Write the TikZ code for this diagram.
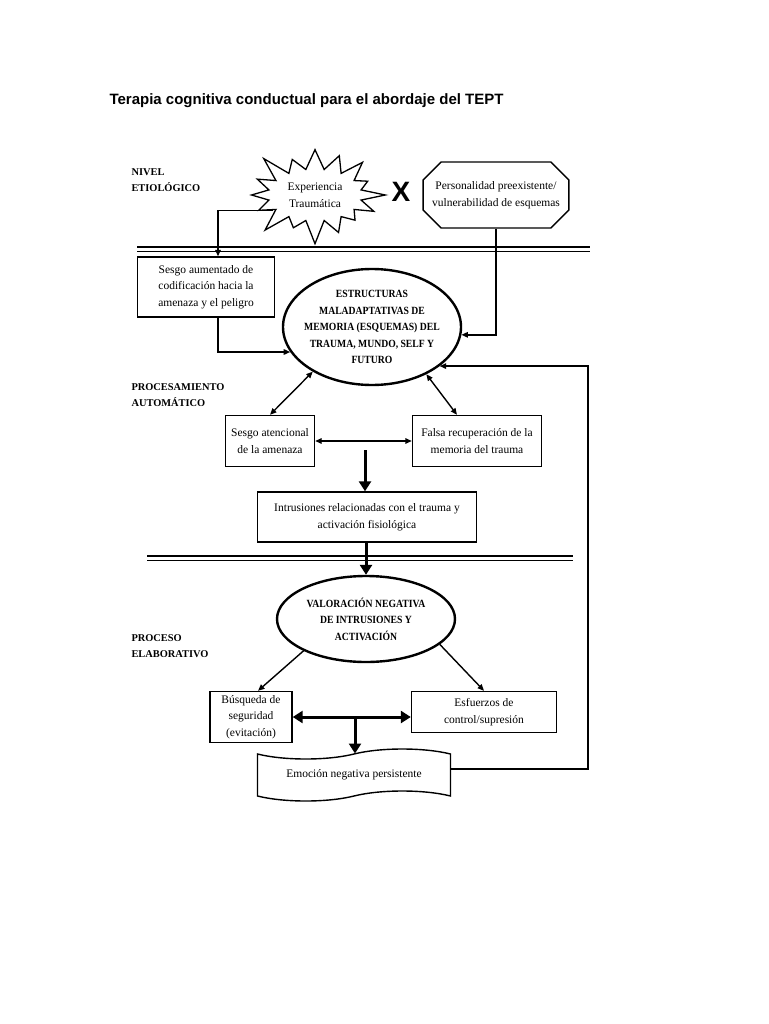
\documentclass[tikz,border=0pt]{standalone}
\usepackage{fontspec}
\setmainfont{Liberation Serif}
\newfontfamily\titlefont{Liberation Sans}
\newfontfamily\capsfont[FakeStretch=0.88]{Liberation Serif}
\usetikzlibrary{arrows.meta, shapes.geometric, shapes.symbols, shapes.misc, positioning}

\begin{document}
\begin{tikzpicture}[x=1pt, y=-1pt,
		>={Triangle[length=6.5pt, width=5.5pt]},
		box/.style={rectangle, draw, line width=1.4pt, align=center, inner sep=2pt, font=\fontsize{11.5}{16.5}\selectfont},
		oval/.style={ellipse, draw, line width=2.4pt, align=center, inner sep=0pt, inner xsep=-12pt, font=\capsfont\bfseries\fontsize{11}{16.5}\selectfont},
		tag/.style={anchor=west, align=left, font=\bfseries\fontsize{10.4}{16.5}\selectfont},
		link/.style={line width=1.4pt},
		bigarrow/.style={line width=3pt, -{Triangle[length=10pt, width=12pt]}},
		bigboth/.style={line width=3pt, {Triangle[length=10pt, width=12pt]}-{Triangle[length=10pt, width=12pt]}}]
			\useasboundingbox (0,0) rectangle (768,1024);

			\node (titulo)[anchor=base west, font=\titlefont\bfseries\fontsize{15}{18}\selectfont] at (106,105) {Terapia cognitiva conductual para el abordaje del TEPT};

			% niveles
			\node (nivel)[tag] at (128,180) {NIVEL\\ETIOLÓGICO};
			\node (proc)[tag] at (128,395) {PROCESAMIENTO\\AUTOMÁTICO};
			\node (elab)[tag] at (128,646) {PROCESO\\ELABORATIVO};

			% separadores
			\draw[line width=2pt] (137,247) -- (590,247);
			\draw[line width=0.8pt] (137,251.5) -- (590,251.5);
			\draw[line width=2pt] (147,556) -- (573,556);
			\draw[line width=0.8pt] (147,560.5) -- (573,560.5);

			% nivel etiologico
			\node (trauma)[starburst, draw, line width=1.3pt, starburst points=16, starburst point height=27pt, minimum width=148pt, minimum height=106pt, align=center, inner sep=0pt, font=\fontsize{11.5}{16.5}\selectfont] at (315,195) {Experiencia\\Traumática};
			\node (x)[font=\titlefont\bfseries\fontsize{28}{28}\selectfont] at (401,192) {X};
			\node (perso)[box, chamfered rectangle, chamfered rectangle sep=9pt, minimum width=135pt, minimum height=66pt, inner sep=0pt] at (496,195) {Personalidad preexistente/\\vulnerabilidad de esquemas};
			\node (sesgo)[box, minimum width=137pt, minimum height=60pt] at (206,287) {Sesgo aumentado de\\codificación hacia la\\amenaza y el peligro};
			\node (esq)[oval, minimum width=178pt, minimum height=116pt] at (372,327) {ESTRUCTURAS\\MALADAPTATIVAS DE\\MEMORIA (ESQUEMAS) DEL\\TRAUMA, MUNDO, SELF Y\\FUTURO};

			% procesamiento automatico
			\node (aten)[box, minimum width=89pt, minimum height=51pt] at (270,441) {Sesgo atencional\\de la amenaza};
			\node (falsa)[box, minimum width=129pt, minimum height=51pt] at (477,441) {Falsa recuperación de la\\memoria del trauma};
			\node (intr)[box, minimum width=219pt, minimum height=50pt] at (367,517) {Intrusiones relacionadas con el trauma y\\activación fisiológica};

			% proceso elaborativo
			\node (val)[oval, minimum width=178pt, minimum height=86pt] at (366,619) {VALORACIÓN NEGATIVA\\DE INTRUSIONES Y\\ACTIVACIÓN};
			\node (busq)[box, minimum width=82pt, minimum height=51pt] at (251,717) {Búsqueda de\\seguridad\\(evitación)};
			\node (esfu)[box, minimum width=145pt, minimum height=41pt] at (484,712) {Esfuerzos de\\control/supresión};
			\node (emo)[tape, draw, line width=1.4pt, minimum width=193pt, minimum height=52pt, tape bend height=10pt, font=\fontsize{11.5}{16.5}\selectfont] at (354,775) {Emoción negativa persistente};

			\coordinate (c1) at (365,450);
			\coordinate (c2) at (355,717);
			\coordinate (ret) at (588,0);

			\draw[link, ->] (trauma.200) -| ([xshift=12pt]sesgo.north);
			\draw[link, ->] ([xshift=12pt]sesgo.south) |- (esq.197);
			\draw[link, ->] (perso.south) |- (esq.355);
			\draw[link, ->] ([yshift=6pt]emo.east) -| (ret |- esq.330) -- (esq.330);

			\draw[link, <->] (esq.217) -- (aten.north);
			\draw[link, <->] (esq.319) -- ([xshift=-20pt]falsa.north);
			\draw[link, <->] (aten) -- (falsa);
			\draw[bigarrow] (c1) -- (c1 |- intr.north);
			\draw[bigarrow] (intr.south -| val.north) -- (val.north);

			\draw[link, ->] (val.207) -- ([xshift=7pt]busq.north);
			\draw[link, ->] (val.341) -- (esfu.north);
			\draw[bigboth] (busq.east) -- (busq.east -| esfu.west);
			\draw[bigarrow] (c2) -- (c2 |- emo.north);
		\end{tikzpicture}
\end{document}
